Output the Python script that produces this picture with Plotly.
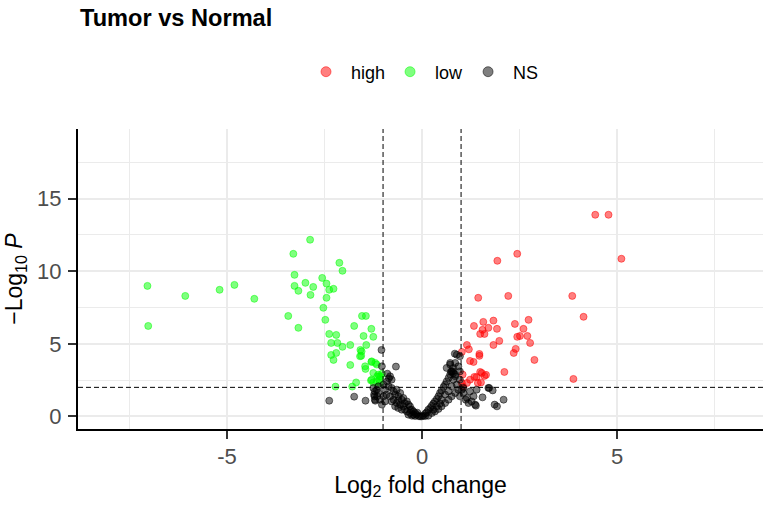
import plotly.graph_objects as go

# ---- data ----
high_x = [4.44, 4.78, 2.44, 1.93, 5.11, 1.44, 2.21, 3.85, 4.14, 2.73, 1.83, 1.57, 1.33, 2.38,
          2.60, 1.92, 1.70, 1.55, 1.49, 1.60, 2.44, 2.51, 2.70, 2.77, 1.98, 1.83, 1.15, 1.20,
          1.02, 1.47, 1.47, 2.40, 2.35, 2.88, 1.23, 1.32, 2.11, 1.49, 1.60, 1.34, 1.40, 1.51,
          1.43, 1.04, 1.15, 3.88, 1.05, 1.02, 1.64, 1.23, 1.53]
high_y = [13.89, 13.89, 11.20, 10.72, 10.86, 8.17, 8.30, 8.30, 6.86, 6.65, 6.60, 6.51, 6.23, 6.37,
          6.03, 6.03, 6.10, 5.96, 5.68, 5.68, 5.48, 5.54, 5.54, 5.06, 5.20, 4.92, 4.92, 4.62,
          4.44, 4.30, 4.17, 4.65, 4.37, 3.89, 3.82, 3.75, 3.06, 3.06, 2.79, 2.72, 2.72, 2.34,
          2.30, 2.88, 2.30, 2.58, 2.05, 2.30, 2.86, 2.53, 2.99]

low_x = [-2.87, -3.30, -2.12, -2.04, -3.27, -2.56, -7.04, -2.99, -2.45, -3.27, -2.79, -4.81, -5.19,
         -6.07, -3.17, -2.38, -2.27, -2.86, -4.30, -2.45, -2.53, -3.43, -2.48, -1.54, -1.44, -7.02,
         -3.17, -1.74, -1.30, -2.38, -2.20, -1.50, -1.25, -2.33, -2.17, -2.04, -1.84, -1.43, -1.58,
         -2.20, -2.33, -1.56, -2.27, -1.84, -1.45, -1.30, -1.20, -1.16, -1.09, -1.31, -1.25, -1.69,
         -1.79, -2.22, -1.55, -1.59, -1.46, -1.29, -1.25, -1.12, -1.06, -1.29, -1.16, -1.09, -1.08,
         -1.03, -1.15]
low_y = [12.17, 11.20, 10.58, 10.03, 9.75, 9.54, 8.99, 9.20, 9.15, 8.99, 8.92, 9.06, 8.72,
         8.30, 8.65, 8.72, 8.79, 8.37, 8.10, 8.17, 7.48, 6.92, 6.65, 6.92, 6.92, 6.23,
         6.10, 6.23, 6.03, 5.68, 5.61, 5.54, 5.48, 5.06, 5.06, 4.79, 4.92, 4.92, 4.58,
         4.37, 4.23, 4.17, 3.89, 3.54, 3.27, 3.75, 3.68, 3.57, 2.76, 2.48, 2.34, 2.34,
         2.05, 2.05, 4.48, 4.14, 3.45, 3.79, 2.99, 2.88, 2.76, 2.53, 2.41, 2.53, 2.30,
         2.94, 2.76]

ns_x = [-2.38, -1.74, -1.45, -1.20, -1.22, -1.21, -1.16, -1.04, -1.03, -0.67, -0.89, -0.85, -0.82,
        -0.78, -1.23, -1.15,
        -0.99, -0.95, -0.86, -0.78, -0.73, -0.69, -0.65, -0.61, -0.56, -0.52, -0.48, -0.39, -0.35,
        -0.31, -0.26, -0.22, -0.18, -0.14, -0.09, -0.05,
        -0.91, -0.82, -0.73, -0.65, -0.56, -0.48, -0.44, -0.39, -0.31, -0.22, -0.99, -1.08, -1.12,
        -1.03, -0.95, -0.78, -0.69, -0.61, -0.52, -0.35, -0.26, -0.18, -1.25, -1.12, -1.21,
        -0.90, -0.60, -0.44, -0.30, -0.12,
        -0.01, 0.03, 0.08, 0.12, 0.16, 0.21, 0.25, 0.29, 0.33, 0.38, 0.42, 0.46, 0.50, 0.55, 0.59,
        0.63, 0.68, 0.72, 0.76, 0.80, 0.72, 0.85,
        0.08, 0.16, 0.25, 0.33, 0.42, 0.50, 0.59, 0.68, 0.76, 0.85, 0.93, 0.89, 0.80, 0.97, 0.50,
        0.59, 0.68, 0.76, 0.85, 0.38, 0.46, 0.29, 0.97, 1.06, 1.15, 1.27, 1.36, 1.06, 1.23, 1.40,
        1.70, 1.32, 0.97, 0.93, 0.63,
        0.89, 0.97, 0.84, 0.74, 0.80, 1.02, 1.55, 1.72, 1.81, 1.86, 1.92, 2.09, 1.12, 1.19, 1.38,
        0.79, 0.72, 0.85]
ns_y = [1.08, 1.36, 1.08, 1.08, 1.38, 1.15, 1.84, 4.58, 3.45, 3.43, 2.94, 2.62, 2.76,
        2.53, 1.50, 1.38,
        2.19, 1.84, 2.07, 1.96, 1.72, 1.50, 1.84, 1.38, 1.61, 1.15, 1.27, 1.03, 0.81,
        0.69, 0.46, 0.34, 0.23, 0.12, 0.02, 0.00,
        1.50, 1.38, 1.15, 0.92, 0.81, 0.69, 0.46, 0.34, 0.23, 0.12, 1.38, 1.15, 1.61,
        0.81, 1.03, 1.03, 0.69, 0.58, 0.46, 0.12, 0.05, 0.03, 1.96, 2.07, 1.72,
        2.40, 1.10, 0.90, 0.45, 0.25,
        0.00, 0.05, 0.19, 0.28, 0.46, 0.58, 0.74, 0.88, 1.03, 1.20, 1.38, 1.61, 1.79, 2.03, 2.19,
        2.41, 2.65, 2.88, 3.10, 3.34, 3.68, 3.68,
        0.02, 0.05, 0.23, 0.34, 0.51, 0.69, 0.92, 1.15, 1.38, 1.61, 1.84, 2.19, 2.53, 2.53, 1.15,
        1.50, 1.72, 2.07, 2.76, 0.69, 0.88, 0.46, 1.38, 1.61, 1.27, 1.03, 0.81, 1.96, 1.72, 1.84,
        1.96, 1.38, 3.10, 3.45, 3.34,
        4.25, 4.14, 4.32, 3.08, 2.99, 1.84, 1.31, 1.96, 1.79, 0.81, 0.69, 1.15, 1.15, 0.92, 0.74,
        3.10, 3.57, 2.88]

group_names = ["high", "low", "NS"]
group_colors = ["rgba(255,0,0,0.5)", "rgba(0,255,0,0.5)", "rgba(0,0,0,0.5)"]
fc_cutoff = 1.0
logp_cutoff = 2.0

x_ticks = [-5, 0, 5]
y_ticks = [0, 5, 10, 15]
x_range = [-8.82, 8.74]
y_range = [-0.87, 19.8]

fig = go.Figure()
series = [(high_x, high_y), (low_x, low_y), (ns_x, ns_y)]
for (xs, ys), name, col in zip(series, group_names, group_colors):
    fig.add_trace(go.Scatter(
        x=xs, y=ys, mode="markers", name=name, showlegend=False, hoverinfo="skip",
        marker=dict(size=7, color=col, line=dict(color=col, width=1)),
    ))
# legend entries with larger keys
for name, col in zip(group_names, group_colors):
    fig.add_trace(go.Scatter(
        x=[None], y=[None], mode="markers", name="\u00a0" + name, showlegend=True,
        marker=dict(size=10, color=col, line=dict(color=col, width=1)),
    ))

dash = "5px,3px"
fig.add_vline(x=-fc_cutoff, line=dict(color="black", width=1, dash=dash))
fig.add_vline(x=fc_cutoff, line=dict(color="black", width=1, dash=dash))
fig.add_hline(y=logp_cutoff, line=dict(color="black", width=1, dash=dash))

font_family = "Liberation Sans, Arial, sans-serif"
axis_common = dict(
    showline=True, linecolor="black", linewidth=2,
    ticks="outside", ticklen=8, tickwidth=2, tickcolor="#333333",
    tickfont=dict(size=22, color="#4D4D4D", family=font_family),
    showgrid=True, gridcolor="#EBEBEB", gridwidth=2,
    zeroline=False,
)
fig.update_xaxes(
    range=x_range, tickvals=x_ticks, ticktext=[str(v) for v in x_ticks],
    minor=dict(tickvals=[-7.5, -2.5, 2.5, 7.5], showgrid=True, gridcolor="#EBEBEB", gridwidth=1),
    title=dict(text="Log<sub>2</sub> fold change", font=dict(size=23, color="black", family=font_family), standoff=8),
    ticklabelstandoff=-1,
    **axis_common,
)
fig.update_yaxes(
    range=y_range, tickvals=y_ticks, ticktext=[str(v) for v in y_ticks],
    minor=dict(tickvals=[2.5, 7.5, 12.5, 17.5], showgrid=True, gridcolor="#EBEBEB", gridwidth=1),
    title=dict(text="\u2212Log<sub>10</sub> <i>P</i>", font=dict(size=23, color="black", family=font_family), standoff=8),
    ticklabelstandoff=2,
    **axis_common,
)

fig.update_layout(
    width=766, height=506,
    margin=dict(l=78, r=3, t=129, b=77, autoexpand=False),
    plot_bgcolor="white", paper_bgcolor="white",
    font=dict(family=font_family, color="black"),
    title=dict(text="<b>Tumor vs Normal</b>", xref="container", yref="container",
               x=80 / 766, xanchor="left", y=1 - 18 / 506, yanchor="middle",
               font=dict(size=23.6, color="black", family=font_family)),
    legend=dict(orientation="h", xref="container", yref="container",
                x=306 / 766, xanchor="left", y=1 - 72 / 506, yanchor="middle",
                font=dict(size=18, color="black", family=font_family),
                bgcolor="rgba(0,0,0,0)"),
)

fig.write_html("out.html", config={"displayModeBar": False},
               post_script="document.body.style.margin='0';document.body.style.padding='0';")
